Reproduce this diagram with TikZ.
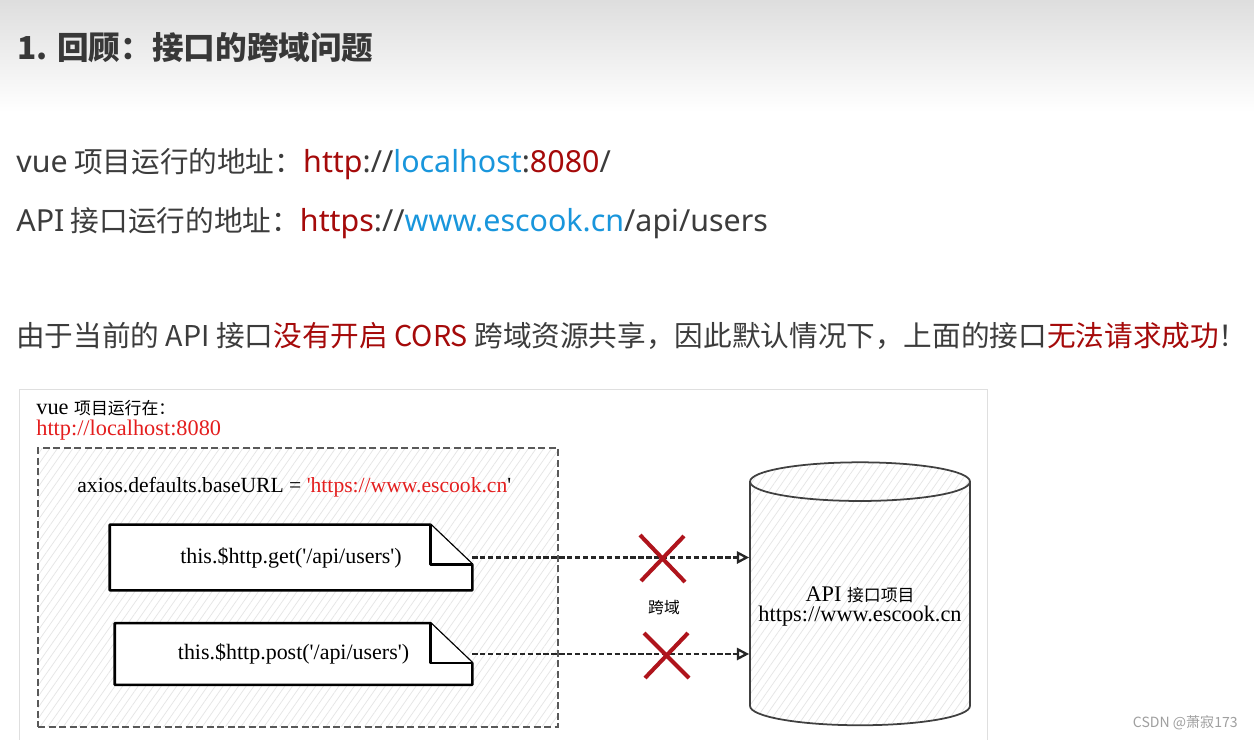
\documentclass[tikz,border=0pt]{standalone}
\usepackage{fontspec}
\setmainfont{Liberation Serif}
\newfontfamily\cjk{Noto Sans CJK SC}
\newfontfamily\lat{Noto Sans}
\usetikzlibrary{arrows.meta,shapes.geometric,positioning,calc,patterns.meta}
\definecolor{textgray}{RGB}{60,60,60}
\definecolor{linkred}{RGB}{165,10,10}
\definecolor{linkblue}{RGB}{25,150,220}
\definecolor{sketchred}{RGB}{228,30,30}
\definecolor{crossred}{RGB}{175,20,28}
\newcommand{\zh}[1]{{\cjk\fontsize{9.6}{11.5}\selectfont #1}}
\newcommand{\en}[1]{{\lat\fontsize{17.3}{19}\selectfont #1}}
\newcommand{\q}{\textquotesingle}

\begin{document}
\begin{tikzpicture}[x=0.02cm, y=-0.02cm, >=Stealth,
      bodyline/.style={anchor=base west, inner sep=0pt, text=textgray,
                       font=\cjk\fontsize{16.3}{19}\selectfont},
      sketch/.style={anchor=base west, inner sep=0pt,
                     font=\fontsize{12.7}{15}\selectfont},
      hatch/.style={pattern={Lines[angle=55,distance=3.6pt,line width=0.4pt]},
                    pattern color=gray!20},
      clientbox/.style={draw=black!65, hatch, line width=1.1pt,
                        dash pattern=on 4pt off 2pt},
      notebox/.style={draw=none, inner sep=0pt,
                      font=\fontsize{12.5}{15}\selectfont},
      noteline/.style={draw=black, fill=white, line width=1.5pt,
                       line join=round},
      dbcyl/.style={cylinder, shape border rotate=90, aspect=0.18,
                    draw=black!75, line width=1pt, hatch,
                    minimum width=4.4cm, minimum height=5.26cm,
                    font=\fontsize{12.7}{13.5}\selectfont},
      dasharrow/.style={-{Triangle[open,length=7pt,width=7pt]}, black!85,
                        line width=1.3pt, dash pattern=on 3pt off 1.5pt},
      crossline/.style={crossred, line width=2.3pt}
    ]
    \useasboundingbox (0,0) rectangle (1254,740);
    \fill[white] (0,0) rectangle (1254,740);
    \shade[top color=gray!26, bottom color=white] (0,0) rectangle (1254,112);

    % heading and text lines
    \node[bodyline, text=black!78, font=\cjk\bfseries\fontsize{18}{22}\selectfont]
      (title) at (17,60) {1. 回顾：接口的跨域问题};
    \node[bodyline] (vueaddr) at (16,173)
      {\en{vue} 项目运行的地址：\en{\textcolor{linkred}{http}://\textcolor{linkblue}{localhost}:\textcolor{linkred}{8080}/}};
    \node[bodyline] (apiaddr) at (16,231)
      {\en{API} 接口运行的地址：\en{\textcolor{linkred}{https}://\textcolor{linkblue}{www.escook.cn}/api/users}};
    \node[bodyline] (reason) at (16,346)
      {由于当前的 API 接口\textcolor{linkred}{没有开启 CORS} 跨域资源共享，因此默认情况下，上面的接口\textcolor{linkred}{无法请求成功}！};

    % diagram
    \draw[gray!25, fill=white] (19,389) rectangle (987,745);
    \node[sketch] (runat) at (36,414) {vue \zh{项目运行在：}};
    \node[sketch, text=sketchred] (localurl) at (36,435) {http://localhost:8080};
    \node[clientbox, minimum width=10.4cm, minimum height=5.58cm] (client) at (298,587.5) {};
    \node[sketch, font=\fontsize{12.3}{15}\selectfont] (axios) at (77,492)
      {axios.defaults.baseURL = \textcolor{sketchred}{\q https://www.escook.cn}\q};

    \node[dbcyl] (api) at (860,607)
      {\raisebox{8pt}{\begin{tabular}{@{}c@{}}API \zh{接口项目}\\[-2pt]https://www.escook.cn\end{tabular}}};

    \foreach \n/\cx/\cy/\w/\h/\txt in {get/291/557.5/7.24cm/1.3cm/get,
                                      post/293.5/654/7.14cm/1.22cm/post}{
      \node[notebox, minimum width=\w, minimum height=\h] (\n) at (\cx,\cy) {};
      \draw[noteline] (\n.north west) -- ($(\n.north east)+(-42,0)$)
        -- ($(\n.north east)+(0,40)$) -- (\n.south east) -- (\n.south west) -- cycle;
      \draw[noteline] ($(\n.north east)+(-42,0)$) |- ($(\n.north east)+(0,40)$);
      \node[notebox] (\n txt) at (\n) {this.\$http.\txt(\q/api/users\q)};
      \draw[dasharrow] (\n.east) -- (\n.east -| api.west);
    }

    \draw[crossline] (640,535) -- (685,582) (684,536) -- (641,581);
    \draw[crossline] (644,633) -- (689,678) (688,633) -- (645,678);
    \node[font=\cjk\fontsize{9}{11}\selectfont] (kuayu) at (664,608) {跨域};

    \node[anchor=base east, inner sep=0pt, text=gray!75,
          font=\cjk\fontsize{8}{10}\selectfont] (mark) at (1238,727) {CSDN @萧寂173};
  \end{tikzpicture}
\end{document}
